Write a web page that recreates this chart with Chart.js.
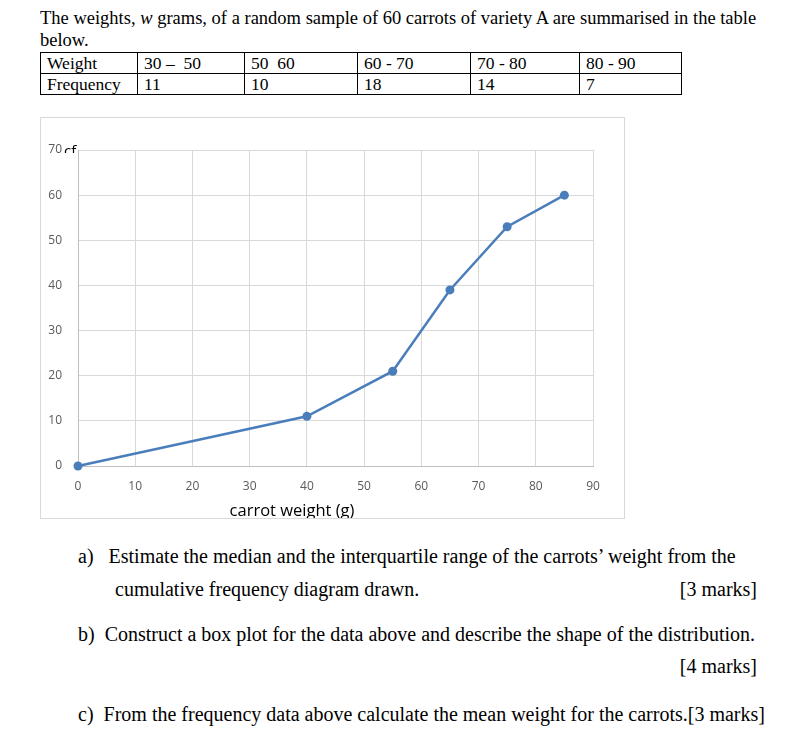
<!DOCTYPE html>
<html>
<head>
<meta charset="utf-8">
<script src="https://cdn.jsdelivr.net/npm/chart.js@4.4.1/dist/chart.umd.min.js"></script>
<style>
  body { margin: 0; background: #fff; width: 807px; height: 735px; position: relative; overflow: hidden;
         font-family: "Liberation Serif", "Times New Roman", serif; color: #000; }
  .intro { position: absolute; left: 40px; top: 7px; width: 745px; font-size: 18.5px; line-height: 22px; }
  table.freq { position: absolute; left: 40px; top: 52px; border-collapse: collapse; font-size: 17.5px; }
  table.freq td { border: 1.3px solid #000; padding: 0 0 0 6px; height: 20px; line-height: 19px; }
  .box { position: absolute; left: 40px; top: 117px; width: 583px; height: 400px; border: 1px solid #d9d9d9; }
  .box canvas { position: absolute; left: 0; top: 0; }
  .q { position: absolute; font-size: 20px; line-height: 20px; }
  .mark { position: absolute; font-size: 20px; line-height: 20px; right: 50px; }
</style>
</head>
<body>

<div class="intro">The weights, <i>w</i> grams, of a random sample of 60 carrots of variety A are summarised in the table below.</div>

<table class="freq">
  <tr>
    <td style="width:90px">Weight</td><td style="width:100px">30 –&nbsp; 50</td><td style="width:106px">50&nbsp; 60</td>
    <td style="width:106px">60 - 70</td><td style="width:102px">70 - 80</td><td style="width:95px">80 - 90</td>
  </tr>
  <tr><td>Frequency</td><td>11</td><td>10</td><td>18</td><td>14</td><td>7</td></tr>
</table>

<div class="box"><canvas id="chart" width="583" height="400"></canvas></div>

<div class="q" style="left:78px; top:546px;">a)&nbsp;&nbsp; Estimate the median and the interquartile range of the carrots’ weight from the</div>
<div class="q" style="left:115px; top:579px;">cumulative frequency diagram drawn.</div>
<div class="mark" style="top:579px;">[3 marks]</div>
<div class="q" style="left:78px; top:624px;">b)&nbsp; Construct a box plot for the data above and describe the shape of the distribution.</div>
<div class="mark" style="top:656px;">[4 marks]</div>
<div class="q" style="left:78px; top:704px;">c)&nbsp; From the frequency data above calculate the mean weight for the carrots.[3 marks]</div>

<script>
// data
const upperBounds = [0, 40, 55, 65, 75, 85];
const cumFreq = [0, 11, 21, 39, 53, 60];

const lineBlue = '#4a7ebb';
const tickGrey = '#595959';

// axis labels placed like the original: "cf" half hidden at the top,
// x title left of centre and cut by the bottom of the box
const axisLabels = {
    id: 'axisLabels',
    afterDraw(chart) {
        const ctx = chart.ctx;
        const area = chart.chartArea;
        ctx.save();
        ctx.beginPath();
        ctx.rect(area.left - 20, area.top - 9, 40, 12);
        ctx.clip();
        ctx.fillStyle = '#000';
        ctx.font = '15px "Open Sans", sans-serif';
        ctx.textBaseline = 'alphabetic';
        ctx.fillText('cf', area.left - 14, area.top + 6);
        ctx.restore();

        ctx.save();
        ctx.fillStyle = '#000';
        ctx.font = '16.5px "Open Sans", sans-serif';
        ctx.textAlign = 'center';
        ctx.textBaseline = 'alphabetic';
        ctx.fillText('carrot weight (g)', 251, chart.height - 2);
        ctx.restore();
    }
};

new Chart(document.getElementById('chart'), {
    type: 'line',
    data: {
        datasets: [{
            data: upperBounds.map((x, i) => ({ x: x, y: cumFreq[i] })),
            borderColor: lineBlue,
            backgroundColor: lineBlue,
            borderWidth: 2.5,
            pointRadius: 4.5,
            pointBorderWidth: 0,
            tension: 0,
            clip: false
        }]
    },
    options: {
        responsive: false,
        animation: false,
        layout: { padding: { top: 32, right: 31, left: 0, bottom: 0 } },
        plugins: { legend: { display: false }, tooltip: { enabled: false } },
        scales: {
            x: {
                type: 'linear',
                min: 0, max: 90,
                ticks: { stepSize: 10, color: tickGrey, padding: 13, font: { family: 'Open Sans', size: 12 } },
                grid: { color: '#d9d9d9', tickLength: 0 },
                border: { color: '#bfbfbf' },
                afterFit(scale) { scale.height = 52; }
            },
            y: {
                min: 0, max: 70,
                ticks: { stepSize: 10, color: tickGrey, padding: 16, font: { family: 'Open Sans', size: 12 } },
                grid: { color: '#d9d9d9', tickLength: 0 },
                border: { color: '#bfbfbf' },
                afterFit(scale) { scale.width = 37; }
            }
        }
    },
    plugins: [axisLabels]
});
</script>
</body>
</html>
